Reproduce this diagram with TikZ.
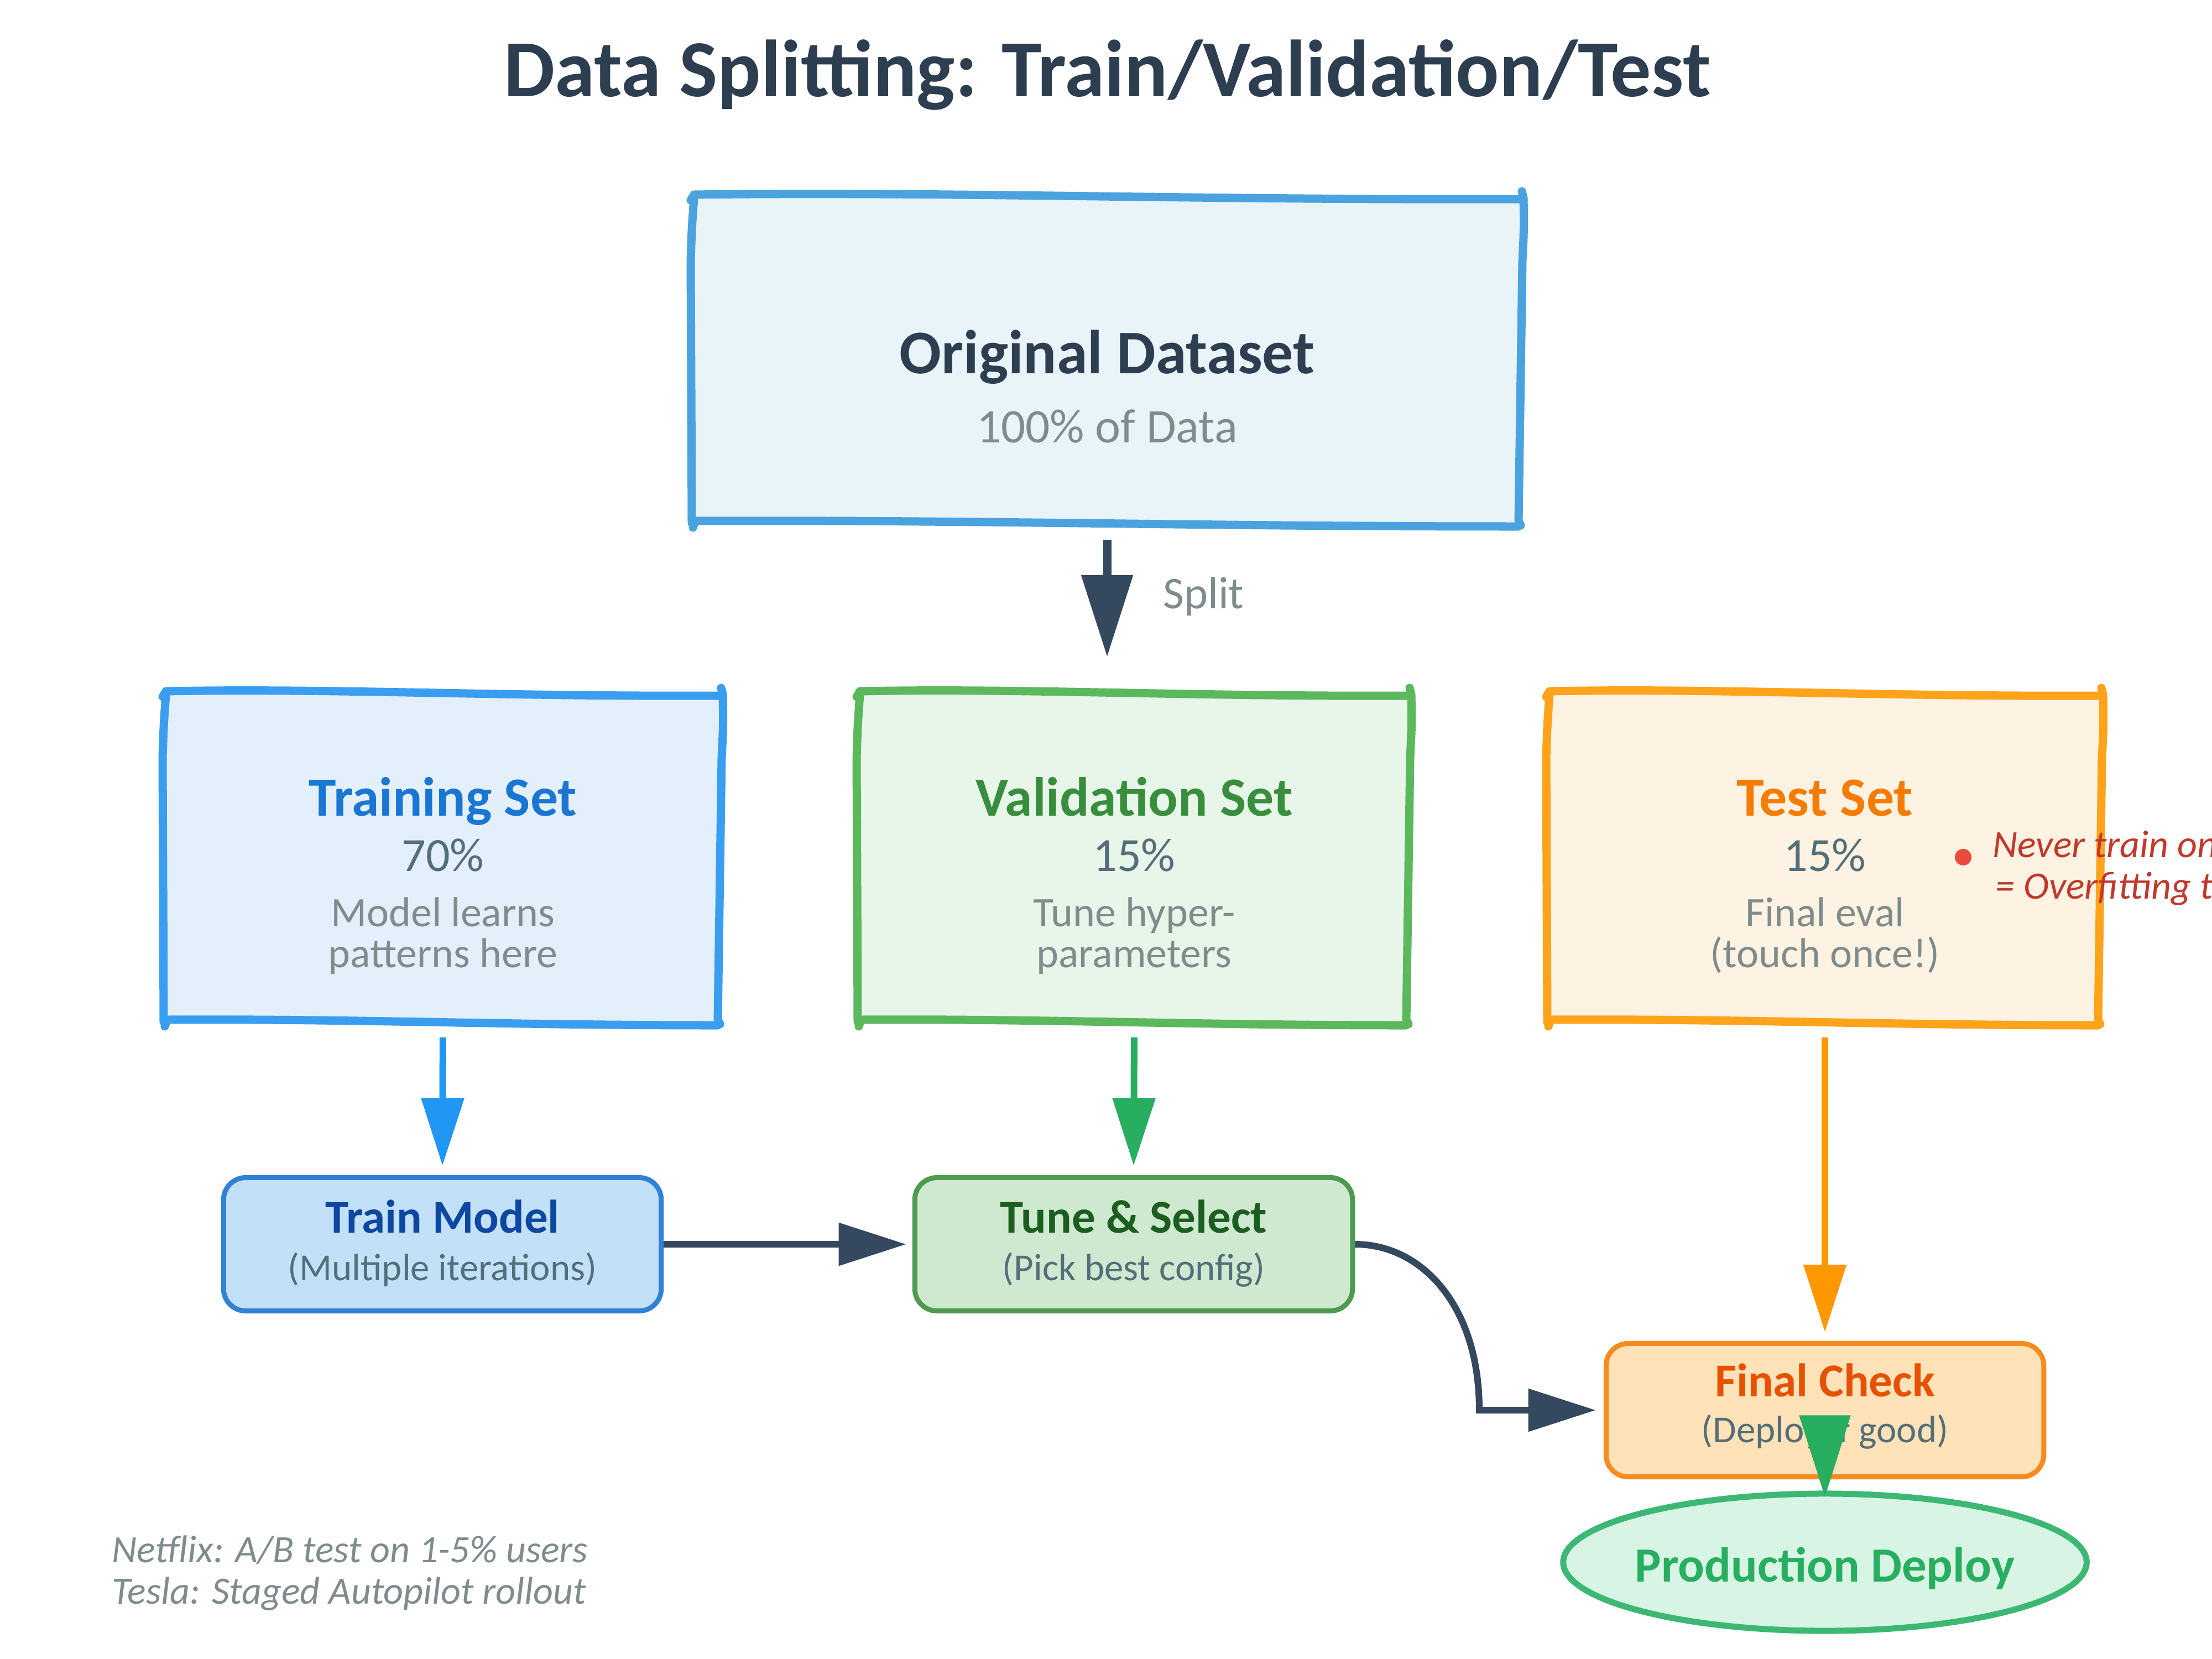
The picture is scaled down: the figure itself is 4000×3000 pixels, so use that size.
\documentclass[tikz,border=0pt]{standalone}
\usepackage{fontspec}
\setmainfont{Carlito}
\usetikzlibrary{arrows.meta,shapes.geometric,calc}
\definecolor{ctitle}{HTML}{2C3E50}
\definecolor{origD}{HTML}{4AA3DF}\definecolor{origF}{HTML}{E8F4F8}
\definecolor{trD}{HTML}{3A9EF0}\definecolor{trF}{HTML}{E3F0FB}\definecolor{trT}{HTML}{1976D2}
\definecolor{vaD}{HTML}{5CB85C}\definecolor{vaF}{HTML}{E8F5E9}\definecolor{vaT}{HTML}{388E3C}
\definecolor{teD}{HTML}{FFA31A}\definecolor{teF}{HTML}{FEF3E2}\definecolor{teT}{HTML}{F57C00}
\definecolor{cpct}{HTML}{546E7A}\definecolor{cdesc}{HTML}{7F8C8D}
\definecolor{tmF}{HTML}{C2E0F8}\definecolor{tmD}{HTML}{3182D6}\definecolor{tmT}{HTML}{0D47A1}
\definecolor{tsF}{HTML}{CFE8D0}\definecolor{tsD}{HTML}{4E9A50}\definecolor{tsT}{HTML}{1B5E20}
\definecolor{fcF}{HTML}{FFE2B8}\definecolor{fcD}{HTML}{F68B1F}\definecolor{fcT}{HTML}{E65100}
\definecolor{pdF}{HTML}{D7F4E4}\definecolor{pdD}{HTML}{3DB874}\definecolor{pdT}{HTML}{27AE60}
\definecolor{cdark}{HTML}{34495E}\definecolor{cblue}{HTML}{2196F3}
\definecolor{cgreen}{HTML}{27AE60}\definecolor{corange}{HTML}{FF9800}
\definecolor{cred}{HTML}{C0392B}\definecolor{cdot}{HTML}{E74C3C}

\newcommand\sketchbox[6]{%
  \pgfmathsetmacro\skL{#1}\pgfmathsetmacro\skT{#2}%
  \pgfmathsetmacro\skR{#3}\pgfmathsetmacro\skB{#4}%
  \pgfmathsetmacro\skW{\skR-\skL}\pgfmathsetmacro\skH{\skB-\skT}%
  \fill[#6] ({\skL+2},{\skT}) -- ({\skR},{\skT+6}) -- ({\skR-6},{\skB}) -- ({\skL},{\skB-4}) -- cycle;
  \draw[sketch,#5]
    ({\skL-4},{\skT+10}) -- ({\skL+2},{\skT}) .. controls ({\skL+0.3*\skW},{\skT-6}) and ({\skL+0.6*\skW},{\skT+10}) .. ({\skR-4},{\skT+8})
    ({\skR},{\skT-6}) -- ({\skR+3},{\skT+6}) .. controls ({\skR+4},{\skT+0.1*\skH}) .. ({\skR+1},{\skT+0.2*\skH}) -- ({\skR-6},{\skB-6}) -- ({\skR-2},{\skB+2})
    ({\skR-6},{\skB+4}) .. controls ({\skL+0.6*\skW},{\skB+4}) and ({\skL+0.35*\skW},{\skB-8}) .. ({\skL+4},{\skB-6}) -- ({\skL},{\skB+6})
    ({\skL-2},{\skB-2}) -- ({\skL-4},{\skT+0.2*\skH}) .. controls ({\skL-2},{\skT+0.1*\skH}) .. ({\skL+2},{\skT+6});
}

\tikzset{
  sketch/.style={line width=0.15cm, line cap=round, line join=round},
  area/.style={rectangle, inner sep=0pt, draw=none},
  txt/.style={anchor=base, inner sep=0pt, align=center},
  smallbox/.style={rectangle, rounded corners=0.4cm, line width=0.09cm, minimum width=7.91cm, minimum height=2.41cm, inner sep=0pt},
  conn/.style={line width=0.12cm},
  headS/.style={-{Triangle[length=1.22cm,width=0.75cm]}},
  headL/.style={-{Triangle[length=1.48cm,width=0.9cm]}},
  fTitle/.style={font=\fontsize{41.6}{48}\selectfont\bfseries},
  fBig/.style={font=\fontsize{31.9}{37}\selectfont\bfseries},
  fSet/.style={font=\fontsize{28.4}{34}\selectfont\bfseries},
  fPct/.style={font=\fontsize{24.5}{29}\selectfont},
  fDesc/.style={font=\fontsize{21.6}{26}\selectfont},
  fSmallT/.style={font=\fontsize{24.2}{29}\selectfont\bfseries},
  fSub/.style={font=\fontsize{19.6}{24}\selectfont},
  fNote/.style={font=\fontsize{19.9}{24}\selectfont\itshape},
}

\begin{document}
\begin{tikzpicture}[x=0.01cm, y=-0.01cm]
\useasboundingbox (0,0) rectangle (4000,3000);
\clip (0,0) rectangle (4000,3000);
\fill[white] (0,0) rectangle (4000,3000);

% title
\node[txt, fTitle, text=ctitle] (title) at (2002,175) {Data Splitting: Train/Validation/Test};

% original dataset
\sketchbox{1253}{352}{2752}{948}{origD}{origF}
\node[area, minimum width=15cm, minimum height=6cm] (orig) at (2002,650) {};
\node[txt, fBig, text=ctitle] (origT) at (2002,675) {Original Dataset};
\node[txt, font=\fontsize{24.8}{30}\selectfont, text=cdesc] (origS) at (2002,800) {100\% of Data};

% three sets
\sketchbox{298}{1250}{1304}{1850}{trD}{trF}
\node[area, minimum width=10.06cm, minimum height=6cm] (train) at (801,1550) {};
\node[txt, fSet, text=trT] (trainT) at (801,1475) {Training Set};
\node[txt, fPct, text=cpct] (trainP) at (801,1575) {70\%};
\node[txt, fDesc, text=cdesc] (trainD1) at (801,1675) {Model learns};
\node[txt, fDesc, text=cdesc] (trainD2) at (801,1749) {patterns here};

\sketchbox{1553}{1250}{2549}{1850}{vaD}{vaF}
\node[area, minimum width=9.96cm, minimum height=6cm] (val) at (2051,1550) {};
\node[txt, fSet, text=vaT] (valT) at (2051,1475) {Validation Set};
\node[txt, fPct, text=cpct] (valP) at (2051,1575) {15\%};
\node[txt, fDesc, text=cdesc] (valD1) at (2051,1675) {Tune hyper-};
\node[txt, fDesc, text=cdesc] (valD2) at (2051,1749) {parameters};

\sketchbox{2800}{1250}{3800}{1850}{teD}{teF}
\node[area, minimum width=10cm, minimum height=6cm] (test) at (3300,1550) {};
\node[txt, fSet, text=teT] (testT) at (3300,1475) {Test Set};
\node[txt, fPct, text=cpct] (testP) at (3300,1575) {15\%};
\node[txt, fDesc, text=cdesc] (testD1) at (3300,1675) {Final eval};
\node[txt, fDesc, text=cdesc] (testD2) at (3300,1749) {(touch once!)};

% note
\fill[cdot] (3550,1550) circle (15);
\node[txt, anchor=base west, fNote, text=cred] (note1) at (3603,1550) {Never train on};
\node[txt, anchor=base west, fNote, text=cred] (note2) at (3608,1625) {= Overfitting t};

% split arrow
\coordinate (splitEnd) at (2002,1188);
\draw[conn, line width=0.15cm, cdark, headL, shorten <=0.25cm] (orig.south) -- (splitEnd);
\node[txt, anchor=base west, font=\fontsize{23.3}{28}\selectfont, text=cdesc] (splitL) at (2103,1100) {Split};

% small boxes
\node[smallbox, draw=tmD, fill=tmF] (tm) at (800,2250) {};
\node[txt, fSmallT, text=tmT] (tmT) at (800,2229) {Train Model};
\node[txt, fSub, text=cpct] (tmS) at (800,2315) {(Multiple iterations)};

\node[smallbox, draw=tsD, fill=tsF] (ts) at (2050,2250) {};
\node[txt, fSmallT, text=tsT] (tsT) at (2050,2229) {Tune \& Select};
\node[txt, fSub, text=cpct] (tsS) at (2050,2315) {(Pick best config)};

\node[smallbox, draw=fcD, fill=fcF] (fc) at (3300,2550) {};
\node[txt, fSmallT, text=fcT] (fcT) at (3300,2525) {Final Check};
\node[txt, fSub, text=cpct] (fcS) at (3300,2608) {(Deploy if good)};

\node[ellipse, draw=pdD, fill=pdF, line width=0.11cm, minimum width=9.46cm, minimum height=2.48cm, inner sep=0pt] (pd) at (3300,2825) {};
\node[txt, font=\fontsize{25.3}{30}\selectfont\bfseries, text=pdT] (pdT) at (3300,2860) {Production Deploy};

% vertical arrows
\draw[conn, cblue, headS, shorten <=0.25cm, shorten >=0.17cm] (train.south) -- (tm.north);
\draw[conn, cgreen, headS, shorten <=0.25cm, shorten >=0.17cm] (val.south) -- (ts.north);
\draw[conn, corange, headS, shorten <=0.25cm, shorten >=0.16cm] (test.south) -- (fc.north);

% horizontal arrows
\draw[conn, cdark, headS, shorten >=0.11cm] (tm.east) -- (ts.west);
\coordinate (bend) at (2675,2550);
\draw[conn, cdark, headS, shorten >=0.14cm, line join=miter]
  (ts.east) .. controls (2570,2250) and (2675,2360) .. (bend) -- (fc.west);

% final to production
\draw[conn, cgreen, headL, shorten <=0.15cm, shorten >=-0.12cm] (fc.center) -- (pd.north);

% footnote
\node[txt, anchor=base west, fNote, text=cdesc] (foot1) at (202,2825) {Netflix: A/B test on 1-5\% users};
\node[txt, anchor=base west, fNote, text=cdesc] (foot2) at (202,2900) {Tesla: Staged Autopilot rollout};
\end{tikzpicture}
\end{document}
